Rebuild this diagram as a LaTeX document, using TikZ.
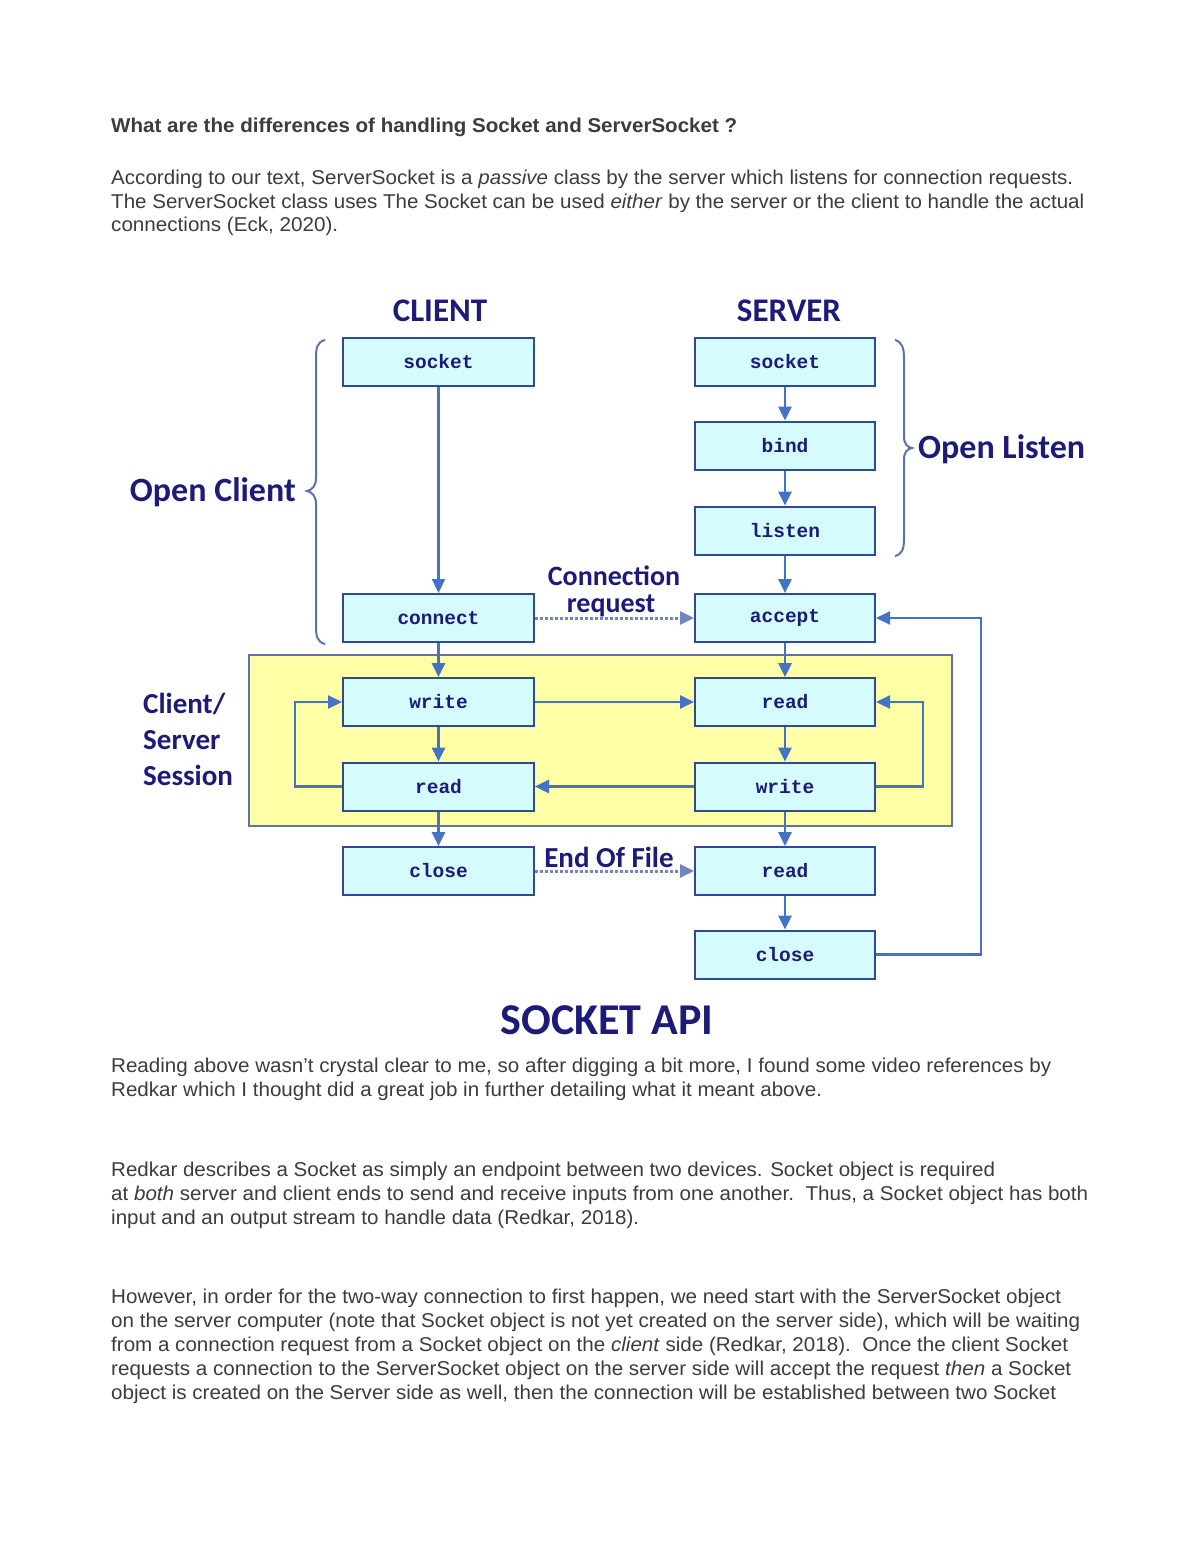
\documentclass[tikz,border=0pt]{standalone}
\usepackage{fontspec}
\usepackage{graphicx}
\setmainfont{Liberation Sans}
\newfontfamily\calfont{Carlito}
\newfontfamily\boxfont{Liberation Mono}
\usetikzlibrary{arrows.meta}
\definecolor{txt}{HTML}{3C3C3C}
\definecolor{navy}{HTML}{1C1C78}
\definecolor{arr}{HTML}{4472C4}
\definecolor{bfill}{HTML}{D5FBFD}
\definecolor{bdraw}{HTML}{2E4C94}
\definecolor{yfill}{HTML}{FFFFA8}
\definecolor{ydraw}{HTML}{5C74A8}
\definecolor{dotc}{HTML}{6F86C0}
\newcommand\bodyline[4]{\node[anchor=base west, inner sep=0pt, text=txt, font=\fontsize{20}{24}\selectfont] (#1) at (111,#2) {\resizebox{#3pt}{\height}{#4}};}
\tikzset{
  box/.style={draw=bdraw, fill=bfill, line width=2pt, minimum width=191pt, minimum height=48pt, inner sep=0pt, font=\boxfont\bfseries\fontsize{19.5}{22}\selectfont, text=navy},
  sbox/.style={box, minimum width=180pt},
  arrow/.style={draw=arr, line width=2.8pt, -{Triangle[length=14pt,width=13pt]}},
  thinarrow/.style={draw=arr, line width=2.2pt, -{Triangle[length=14pt,width=13pt]}},
  dots/.style={draw=dotc, line width=3pt, dash pattern=on 2.5pt off 2.5pt, -{Triangle[length=14pt,width=13pt]}},
  brace/.style={draw=ydraw, line width=2pt},
  lab/.style={text=navy, font=\calfont\bfseries\fontsize{33}{36}\selectfont, inner sep=0pt},
}
\begin{document}
\begin{tikzpicture}[x=1pt,y=-1pt]
\useasboundingbox (0,0) rectangle (1200,1553);
\fill[white] (0,0) rectangle (1200,1553);

% top text
\node[anchor=base west, inner sep=0pt, text=txt, font=\bfseries\fontsize{20}{24}\selectfont] (title) at (111,132) {\resizebox{626pt}{\height}{What are the differences of handling Socket and ServerSocket ?}};
\bodyline{p1a}{184}{962}{According to our text, ServerSocket is a \textit{passive} class by the server which listens for connection requests.}
\bodyline{p1b}{208}{973}{The ServerSocket class uses The Socket can be used \textit{either} by the server or the client to handle the actual}
\bodyline{p1c}{231}{227}{connections (Eck, 2020).}

% session area
\node[draw=ydraw, fill=yfill, line width=2pt, minimum width=703pt, minimum height=171pt, inner sep=0pt, anchor=north west] (session) at (248,654) {};

% headers
\node[lab] (client) at (440,311) {CLIENT};
\node[lab] (server) at (789,311) {SERVER};

% client boxes
\node[box] (csock) at (438.5,362) {socket};
\node[box] (connect) at (438.5,618) {connect};
\node[box] (cwrite) at (438.5,702) {write};
\node[box] (cread) at (438.5,786.5) {read};
\node[box] (cclose) at (438.5,871) {close};

% server boxes
\node[sbox] (ssock) at (785,362) {socket};
\node[sbox] (bind) at (785,445.5) {bind};
\node[sbox] (listen) at (785,530.5) {listen};
\node[sbox] (accept) at (785,618) {accept};
\node[sbox] (sread) at (785,702) {read};
\node[sbox] (swrite) at (785,786.5) {write};
\node[sbox] (sread2) at (785,871) {read};
\node[sbox] (sclose) at (785,954.5) {close};

% client arrows
\draw[thinarrow] (csock) -- (connect);
\draw[arrow] (connect) -- (cwrite);
\draw[arrow] (cwrite) -- (cread);
\draw[arrow] (cread) -- (cclose);
% server arrows
\draw[arrow] (ssock) -- (bind);
\draw[arrow] (bind) -- (listen);
\draw[arrow] (listen) -- (accept);
\draw[arrow] (accept) -- (sread);
\draw[arrow] (sread) -- (swrite);
\draw[arrow] (swrite) -- (sread2);
\draw[arrow] (sread2) -- (sclose);
% session arrows
\draw[arrow] (cwrite) -- (sread);
\draw[arrow] (swrite) -- (cread);
\draw[thinarrow] (cread.west) -- ++(-47,0) |- (cwrite.west);
\draw[thinarrow] (swrite.east) -- ++(47,0) |- (sread.east);
\draw[thinarrow] (sclose.east) -- ++(105,0) |- (accept.east);
% dotted
\draw[dots] (connect) -- (accept);
\draw[dots] (cclose) -- (sread2);

% braces
\draw[brace] (325,340) .. controls (317,342) and (316,348) .. (316,358) -- (316,478) .. controls (316,486) and (312,490) .. (307,491) .. controls (312,492) and (316,496) .. (316,504) -- (316,626) .. controls (316,636) and (317,642) .. (325,644);
\draw[brace] (895,340) .. controls (902,342) and (904,348) .. (904,358) -- (904,436) .. controls (904,444) and (907,447) .. (912,448) .. controls (907,449) and (904,452) .. (904,460) -- (904,538) .. controls (904,550) and (902,554) .. (895,556);

% labels
\node[lab, anchor=east, font=\calfont\bfseries\fontsize{34}{36}\selectfont] (openclient) at (296,492) {Open Client};
\node[lab, anchor=west, font=\calfont\bfseries\fontsize{34}{36}\selectfont] (openlisten) at (918,449) {Open Listen};
\node[lab, anchor=base, text height=19pt, text depth=0pt, font=\calfont\bfseries\fontsize{28}{30}\selectfont] (connreq1) at (614,585) {Connection};
\node[lab, anchor=base, text height=14pt, text depth=6pt, font=\calfont\bfseries\fontsize{28}{30}\selectfont] (connreq2) at (611,612) {request};
\node[lab, font=\calfont\bfseries\fontsize{29}{30}\selectfont] (eof) at (609,857) {End Of File};
\node[lab, anchor=west, align=left, font=\calfont\bfseries\fontsize{29}{36}\selectfont] (sess) at (143,739) {Client/\\Server\\Session};
\node[lab, font=\calfont\bfseries\fontsize{44}{48}\selectfont] (api) at (607,1020) {SOCKET API};

% bottom text
\bodyline{p2a}{1072}{940}{Reading above wasn't crystal clear to me, so after digging a bit more, I found some video references by}
\bodyline{p2b}{1096}{711}{Redkar which I thought did a great job in further detailing what it meant above.}
\bodyline{p3a}{1176}{884}{Redkar describes a Socket as simply an endpoint between two devices. Socket object is required}
\bodyline{p3b}{1200}{977}{at \textit{both} server and client ends to send and receive inputs from one another.~~Thus, a Socket object has both}
\bodyline{p3c}{1224}{528}{input and an output stream to handle data (Redkar, 2018).}
\bodyline{p4a}{1303}{950}{However, in order for the two-way connection to first happen, we need start with the ServerSocket object}
\bodyline{p4b}{1327}{969}{on the server computer (note that Socket object is not yet created on the server side), which will be waiting}
\bodyline{p4c}{1351}{957}{from a connection request from a Socket object on the \textit{client} side (Redkar, 2018).~~Once the client Socket}
\bodyline{p4d}{1375}{960}{requests a connection to the ServerSocket object on the server side will accept the request \textit{then} a Socket}
\bodyline{p4e}{1399}{945}{object is created on the Server side as well, then the connection will be established between two Socket}
\end{tikzpicture}
\end{document}
